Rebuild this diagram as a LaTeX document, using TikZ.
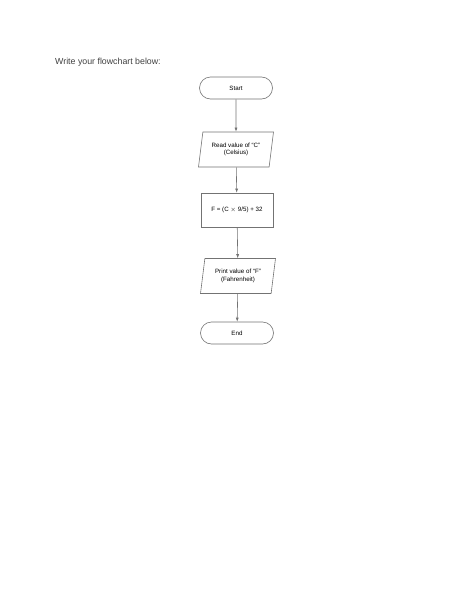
\documentclass[tikz,border=0pt]{standalone}
\usepackage{fontspec}
\setmainfont{Liberation Sans}
\usetikzlibrary{shapes.geometric,arrows.meta}
\begin{document}
\begin{tikzpicture}[x=1pt,y=-1pt,
  box/.style={draw=black!55, line width=0.6pt, font=\fontsize{6.2}{7.5}\selectfont, align=center, fill=white, inner sep=1pt},
  term/.style={box, rounded corners=11pt, minimum height=22pt, minimum width=73pt},
  proc/.style={box, minimum height=34pt, minimum width=72pt},
  io/.style={box, trapezium, trapezium left angle=74, trapezium right angle=106, trapezium stretches body, minimum height=35pt, minimum width=75pt},
  flow/.style={draw=black!55, line width=0.6pt, -{Latex[length=4pt,width=3pt]}}]
\useasboundingbox (0,0) rectangle (474,613);
\node[anchor=west, font=\fontsize{8.8}{10}\selectfont, text=black!75, inner sep=0pt] (title) at (55,62) {Write your flowchart below:};
\node[term] (start) at (236,88) {Start};
\node[io] (read) at (236,149.5) {Read value of ``C''\\(Celsius)};
\node[proc] (calc) at (237,210) {F = (C $\times$ 9/5) + 32};
\node[io] (print) at (238,276) {Print value of ``F''\\(Fahrenheit)};
\node[term] (end) at (237,333) {End};
\draw[flow] (start) -- (read);
\draw[flow] (read) -- (calc);
\draw[flow] (calc) -- (print);
\draw[flow] (print) -- (end);
\end{tikzpicture}
\end{document}
